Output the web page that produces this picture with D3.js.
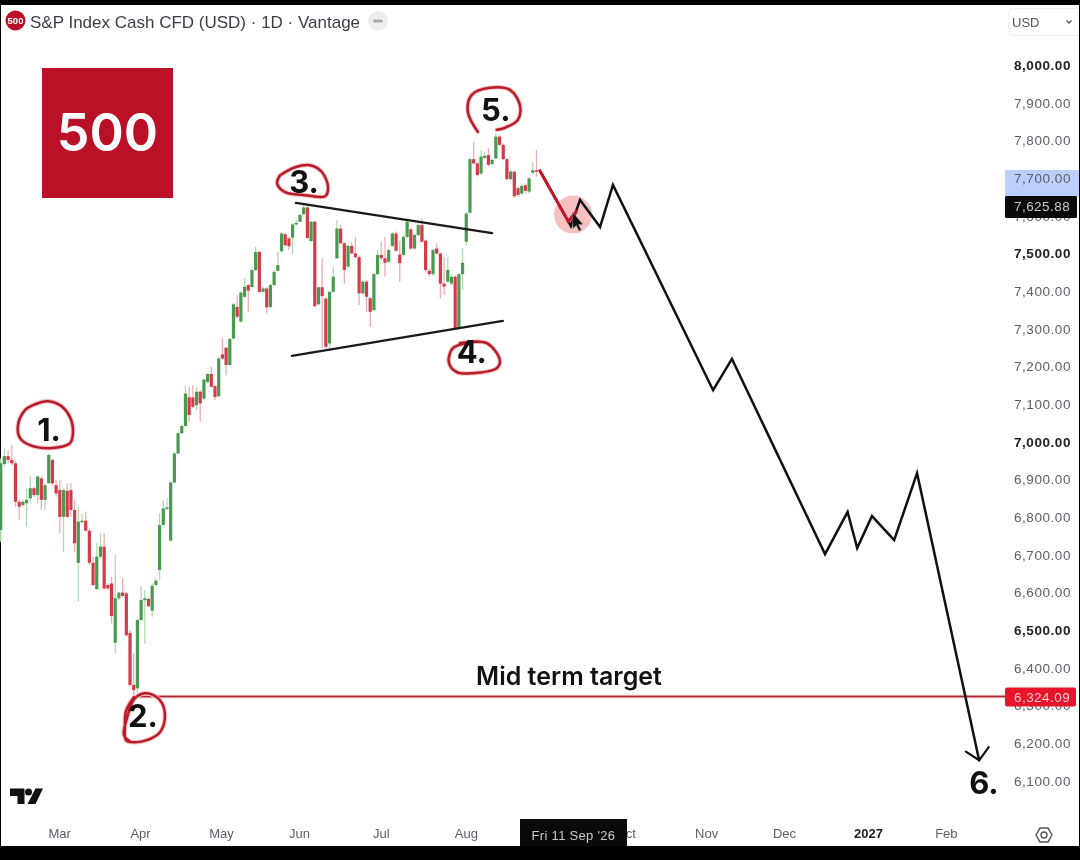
<!DOCTYPE html>
<html><head><meta charset="utf-8">
<script src="https://cdnjs.cloudflare.com/ajax/libs/d3/7.8.5/d3.min.js"></script>
<style>
html,body{margin:0;padding:0;background:#000;overflow:hidden}
svg{display:block;filter:blur(0.6px)}
text{font-family:"Liberation Sans",Arial,sans-serif}
</style></head><body><svg id="c" width="1080" height="860"></svg>
<script>
const opens=[6766,6941,6962,6952,6943,6841,6832,6837,6850,6877,6859,6903,6846,6890,6952,6885,6872,6801,6870,6872,6819,6679,6787,6791,6764,6679,6609,6695,6722,6620,6624,6467,6585,6600,6598,6493,6355,6346,6527,6580,6583,6552,6620,6660,6779,6822,6738,6892,6969,7023,7042,
7118,7118,7097,7133,7115,7159,7180,7148,7121,7232,7250,7204,7274,7358,7319,7385,7416,7411,7456,7504,7398,7407,7358,7416,7454,7506,7551,7540,7542,7577,7584,7604,7622,7533,7584,7365,7410,7380,7261,7398,7487,
7566,7527,7465,7520,7500,7490,7394,7425,7381,7350,7445,7496,7487,7478,7520,7553,7497,7496,7544,7564,7513,7549,7575,7534,7454,7445,7513,7500,7420,7425,7420,7438,7301,7445,7531,7608,7750,7739,7712,7753,7761,7737,7752,7810,7788,7750,7697,7717,7673,7659,7681,7664,7714,7721];
const highs=[6956,6983,6978,6992,6950,6846,6846,6877,6908,6881,6912,6908,6890,6969,6956,6899,6899,6877,6890,6890,6846,6828,6810,6815,6770,6695,6731,6757,6757,6624,6642,6700,6602,6638,6602,6500,6439,6531,6616,6607,6587,6624,6638,6810,6846,6850,6896,6973,7027,7046,7150,
7146,7150,7146,7137,7168,7183,7199,7150,7225,7274,7252,7277,7369,7389,7400,7434,7419,7459,7518,7507,7411,7411,7420,7455,7504,7557,7555,7544,7580,7590,7605,7628,7628,7587,7587,7412,7487,7385,7402,7463,7588,
7575,7530,7524,7530,7544,7494,7429,7429,7385,7449,7510,7531,7544,7512,7557,7558,7535,7549,7590,7568,7553,7580,7593,7537,7460,7512,7527,7503,7491,7491,7445,7442,7449,7513,7610,7754,7796,7742,7774,7770,7779,7752,7819,7815,7792,7753,7722,7720,7678,7685,7686,7703,7743,7774];
const lows=[6735,6934,6943,6938,6828,6793,6828,6775,6837,6854,6837,6819,6819,6890,6885,6854,6757,6708,6797,6801,6708,6576,6784,6762,6673,6616,6607,6691,6607,6607,6518,6439,6580,6587,6483,6350,6324,6333,6527,6465,6561,6536,6616,6633,6779,6819,6735,6890,6969,7021,7040,
7053,7089,7084,7053,7111,7155,7144,7111,7118,7217,7177,7202,7272,7327,7316,7383,7345,7409,7454,7394,7396,7341,7354,7414,7452,7500,7518,7509,7498,7575,7582,7602,7538,7530,7357,7362,7248,7248,7248,7396,7485,
7524,7420,7462,7498,7486,7363,7390,7345,7305,7346,7443,7483,7438,7475,7517,7505,7425,7492,7540,7510,7510,7545,7528,7450,7438,7440,7497,7381,7390,7422,7415,7298,7298,7403,7522,7606,7736,7704,7709,7750,7732,7734,7750,7785,7747,7693,7694,7648,7650,7655,7660,7660,7710,7704];
const closes=[6943,6962,6952,6943,6841,6828,6841,6846,6877,6859,6908,6846,6885,6965,6890,6863,6801,6872,6801,6819,6731,6788,6791,6764,6679,6620,6695,6722,6611,6611,6538,6585,6600,6591,6487,6355,6341,6527,6580,6585,6564,6618,6632,6779,6823,6826,6892,6969,7023,7042,7128,
7071,7093,7133,7102,7165,7180,7146,7119,7221,7221,7204,7273,7365,7332,7396,7411,7401,7456,7504,7398,7407,7357,7416,7451,7469,7553,7522,7519,7577,7581,7602,7622,7541,7584,7360,7410,7387,7252,7398,7438,7566,
7527,7456,7520,7500,7490,7394,7425,7385,7345,7445,7496,7487,7475,7509,7553,7507,7474,7544,7584,7513,7549,7575,7531,7456,7445,7509,7500,7420,7412,7456,7438,7301,7445,7475,7606,7750,7739,7708,7757,7759,7735,7748,7810,7788,7750,7697,7717,7652,7655,7679,7666,7699,7721,7717];

const priceTicks=[8000,7900,7800,7700,7600,7500,7400,7300,7200,7100,7000,6900,6800,6700,6600,6500,6400,6300,6200,6100];
const strongPrices=[8000,7500,7000,6500];
const monthLabels=["Mar","Apr","May","Jun","Jul","Aug","ct","Nov","Dec","2027","Feb"];
const monthIndex=[15.8,37.7,59.6,80.7,102.9,125.9,170.4,190.9,212,234.7,255.8];

const forecastIdx=[145.95,154.3,156.8,162.2,165.7,192.8,197.9,223.1,229.2,231.8,235.8,241.8,248,264.8];
const forecastPrice=[7719,7573,7642,7570,7682,7137,7220,6702,6814,6718,6803,6739,6917,6155];
const arrowIdx=[261.2,264.8,267.4];
const arrowPrice=[6178,6155,6190];
const redStrokeIdx=[145.95,153.6,155.8];
const redStrokePrice=[7719,7585,7612];
const upperTrendIdx=[79.9,133];
const upperTrendPrice=[7634,7554];
const lowerTrendIdx=[78.8,135.9];
const lowerTrendPrice=[7228,7321];
const targetPrice=6324.09, lastPrice=7625.88;
const targetIdx=[36.4,271.8];
const waveLabels=["1.","2.","3.","4.","5.","6."];
const waveIdx=[13.07,38.5,82.1,127.5,134,266.1];
const wavePrice=[7031,6272,7689,7238,7881,6094];
const ringOffsets=[
 [[-16,-25],[-24,-20],[-31,-5],[-29,8],[-19,15],[1,18],[21,13],[24,2],[21,-13],[11,-25],[-2,-29],[-16,-25]],
 [[-9,-19],[-17,-5],[-18,10],[-17,24],[-9,26],[4,24],[17,16],[22,-1],[17,-16],[4,-23],[-8,-18],[-16,2],[-19,19],[-12,26]],
 [[-24,-7],[-9,-15],[6,-17],[18,-10],[24,5],[21,14],[1,13],[-19,10],[-27,1],[-24,-7]],
 [[-12,-9],[15,-9],[28,8],[25,16],[1,21],[-15,20],[-23,10],[-19,-4],[-5,-9]],
 [[-18,22],[-28,2],[-24,-15],[-6,-22],[14,-20],[24,-5],[22,10],[9,18],[1,20]]
];

const svg=d3.select("#c");
const x=d3.scaleLinear().domain([0,100]).range([0.7,370.2]);
const y=d3.scaleLinear().domain([6100,8000]).range([781,65]);
const GREEN="#479a50", RED="#d63a48", GWICK="#aedcae", RWICK="#eeacb0";

svg.append("rect").attr("width",1080).attr("height",860).attr("fill","#000");
svg.append("rect").attr("x",1).attr("y",5).attr("width",1078).attr("height",841).attr("fill","#fff");

svg.append("circle").attr("cx",15.5).attr("cy",20.5).attr("r",10).attr("fill","#bb1128");
svg.append("text").attr("x",15.5).attr("y",24).attr("text-anchor","middle").attr("fill","#fff").attr("font-size",9.5).attr("font-weight",700).text("500");
svg.append("text").attr("x",30).attr("y",27.5).attr("fill","#3a3d46").attr("font-size",17).text("S&P Index Cash CFD (USD) · 1D · Vantage");
svg.append("circle").attr("cx",378).attr("cy",21).attr("r",10).attr("fill","#eeeeee");
svg.append("rect").attr("x",373).attr("y",19.5).attr("width",10).attr("height",3).attr("rx",1.5).attr("fill","#aaa");
svg.append("rect").attr("x",1008.5).attr("y",8.5).attr("width",80).attr("height",27).attr("rx",5).attr("fill","#fff").attr("stroke","#eeeeee");
svg.append("text").attr("x",1012).attr("y",26.5).attr("fill","#555").attr("font-size",13).text("USD");
svg.append("path").attr("d","M1066.5,20.5l2.5,2.5l2.5,-2.5").attr("fill","none").attr("stroke","#555").attr("stroke-width",1.4);
svg.append("rect").attr("x",1079).attr("y",0).attr("width",1).attr("height",860).attr("fill","#000");

svg.append("rect").attr("x",42).attr("y",68).attr("width",131).attr("height",130).attr("fill","#bb1128");
svg.append("text").attr("x",107.5).attr("y",151).attr("text-anchor","middle").attr("fill","#fff").attr("font-size",52).attr("font-weight",600).style("font-family","Inter,'Liberation Sans',sans-serif").text("500");

svg.append("circle").attr("cx",x(154.9)).attr("cy",y(7603)).attr("r",19).attr("fill","#f4a9ab").attr("opacity",.72);

const idx=d3.range(opens.length);
const col=i=>closes[i]>=opens[i];
svg.append("g").selectAll("line").data(idx).join("line")
 .attr("x1",i=>x(i)).attr("x2",i=>x(i)).attr("y1",i=>y(highs[i])).attr("y2",i=>y(lows[i]))
 .attr("stroke",i=>col(i)?GWICK:RWICK).attr("stroke-width",1.3);
svg.append("g").selectAll("rect").data(idx).join("rect")
 .attr("x",i=>x(i)-1.6).attr("width",3.2)
 .attr("y",i=>y(Math.max(opens[i],closes[i])))
 .attr("height",i=>Math.max(1.5,Math.abs(y(opens[i])-y(closes[i]))))
 .attr("fill",i=>col(i)?GREEN:RED);

svg.append("line").attr("x1",x(targetIdx[0])).attr("x2",x(targetIdx[1])).attr("y1",y(targetPrice)).attr("y2",y(targetPrice)).attr("stroke","#f3b7ba").attr("stroke-width",3.4);
svg.append("line").attr("x1",x(targetIdx[0])).attr("x2",x(targetIdx[1])).attr("y1",y(targetPrice)).attr("y2",y(targetPrice)).attr("stroke","#a92a35").attr("stroke-width",1.5);
svg.append("text").attr("x",569).attr("y",685).attr("text-anchor","middle").attr("fill","#111").attr("font-size",25).attr("font-weight",600).style("font-family","Inter,'Liberation Sans',sans-serif").text("Mid term target");

const poly=(xs,ys)=>d3.line().x(i=>x(xs[i])).y(i=>y(ys[i]))(d3.range(xs.length));
const ink=(d,c,w)=>svg.append("path").attr("d",d).attr("fill","none").attr("stroke",c).attr("stroke-width",w).attr("stroke-linecap","round").attr("stroke-linejoin","miter");
ink(poly(upperTrendIdx,upperTrendPrice),"#1a1a1a",2.3);
ink(poly(lowerTrendIdx,lowerTrendPrice),"#1a1a1a",2.3);
ink(poly(forecastIdx,forecastPrice),"#111",2.5);
ink(poly(arrowIdx,arrowPrice),"#111",2.2);
ink(poly(redStrokeIdx,redStrokePrice),"#c2182a",3);

const ring=d3.line().curve(d3.curveCatmullRom.alpha(.5));
waveLabels.forEach((t,k)=>{
  const cx=x(waveIdx[k]), cy=y(wavePrice[k]);
  if(ringOffsets[k]){
    const d=ring(ringOffsets[k].map(o=>[cx+o[0],cy+o[1]]));
    ink(d,"#f6c3c5",4.6); ink(d,"#b81c2b",2.5);
  }
  svg.append("text").attr("x",cx).attr("y",cy+11).attr("text-anchor","middle").attr("fill","#111").attr("font-size",31).attr("font-weight",700).style("font-family","Inter,'Liberation Sans',sans-serif").text(t);
});

svg.append("path").attr("transform",`translate(${x(154.9)-0.3},${y(7603)-2})`).attr("d","M0,0v16l3.6,-3.2l2.6,5.6l2.2,-1l-2.6,-5.4l4.4,-.4z").attr("fill","#111").attr("stroke","#999").attr("stroke-width",.5);

svg.append("path").attr("fill","#111").attr("d","M10,788.5h14.5v15.5h-7v-8h-7.5z");
svg.append("circle").attr("cx",28.5).attr("cy",792).attr("r",3.5).attr("fill","#111");
svg.append("path").attr("fill","#111").attr("d","M35.5,788.5h7.5l-7.5,15.5h-8z");

const yAxis=d3.axisRight(y).tickValues(priceTicks).tickSize(0).tickPadding(0).tickFormat(d3.format(",.2f"));
svg.append("rect").attr("x",1005).attr("y",170).attr("width",74).attr("height",27).attr("fill","#bccffb");
const gy=svg.append("g").attr("transform","translate(1014,0)").call(yAxis);
gy.select(".domain").remove();
gy.selectAll("text").attr("fill",d=>strongPrices.includes(d)?"#222":"#5b5e66")
  .attr("font-size",13.5).attr("font-weight",d=>strongPrices.includes(d)?700:400)
  .style("font-family","'Liberation Sans',Arial,sans-serif").style("letter-spacing","0.55px");

svg.append("rect").attr("x",1005).attr("y",y(lastPrice)-10).attr("width",72).attr("height",22).attr("rx",1.5).attr("fill","#0a0a0a");
svg.append("text").attr("x",1014).attr("y",y(lastPrice)+5.5).attr("fill","#c9c9c9").attr("font-size",13.5).style("letter-spacing","0.45px").text(d3.format(",.2f")(lastPrice));
svg.append("rect").attr("x",1005).attr("y",y(targetPrice)-9).attr("width",71).attr("height",19).attr("rx",2).attr("fill","#e8142b");
svg.append("text").attr("x",1014).attr("y",y(targetPrice)+5).attr("fill","#f8c9cd").attr("font-size",13.5).style("letter-spacing","0.45px").text(d3.format(",.2f")(targetPrice));

const tAxis=d3.axisBottom(x).tickValues(monthIndex).tickSize(0).tickPadding(0).tickFormat((d,i)=>monthLabels[i]);
const gx=svg.append("g").attr("transform","translate(0,829)").call(tAxis);
gx.select(".domain").remove();
gx.selectAll("text").attr("fill",(d,i)=>monthLabels[i]==="2027"?"#222":"#5b5e66")
  .attr("font-size",13).attr("font-weight",(d,i)=>monthLabels[i]==="2027"?700:400)
  .style("font-family","'Liberation Sans',Arial,sans-serif").attr("dy","0.71em");

svg.append("rect").attr("x",520).attr("y",819).attr("width",107).attr("height",27).attr("fill","#0a0a0a");
svg.append("text").attr("x",573.5).attr("y",839.5).attr("text-anchor","middle").attr("fill","#c9c9c9").attr("font-size",13).style("letter-spacing","0.3px").text("Fri 11 Sep '26");

const hex=d3.range(6).map(k=>[1044+8*Math.cos(k*Math.PI/3),835+8*Math.sin(k*Math.PI/3)]);
svg.append("path").attr("d",d3.line()(hex)+"Z").attr("fill","none").attr("stroke","#555").attr("stroke-width",1.4);
svg.append("circle").attr("cx",1044).attr("cy",835).attr("r",3).attr("fill","none").attr("stroke","#555").attr("stroke-width",1.4);

svg.append("rect").attr("x",0).attr("y",846).attr("width",1080).attr("height",14).attr("fill","#000");
</script></body></html>
